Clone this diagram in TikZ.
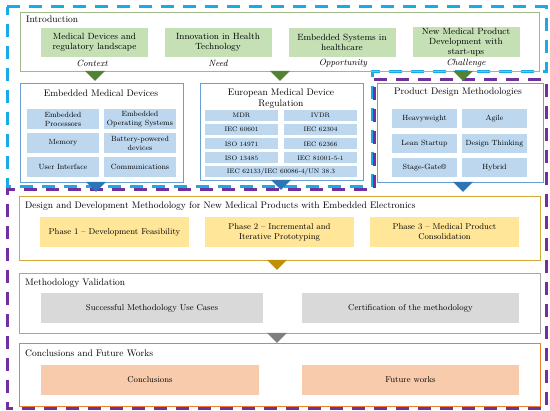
\documentclass[tikz,border=0pt]{standalone}
\usepackage{tikz}
\usepackage{amsmath}

\definecolor{dashcyan}{HTML}{1AAAE6}
\definecolor{dashpurple}{HTML}{7030A0}
\definecolor{introline}{HTML}{9FB98A}
\definecolor{introfill}{HTML}{C5E0B4}
\definecolor{introtri}{HTML}{548235}
\definecolor{blueline}{HTML}{6A9FD4}
\definecolor{bluefill}{HTML}{BDD7EE}
\definecolor{bluetri}{HTML}{2E75B6}
\definecolor{goldline}{HTML}{D2AA3A}
\definecolor{goldfill}{HTML}{FFE699}
\definecolor{goldtri}{HTML}{BF9000}
\definecolor{grayline}{HTML}{A6A6A6}
\definecolor{grayfill}{HTML}{D9D9D9}
\definecolor{graytri}{HTML}{7F7F7F}
\definecolor{orangeline}{HTML}{ED7D31}
\definecolor{orangefill}{HTML}{F8CBAD}

\tikzset{
  groupdash/.style={line width=3pt, dash pattern=on 13pt off 9pt},
  title/.style={anchor=west, inner sep=0pt, font=\fontsize{9.5}{11}\selectfont},
  introbox/.style={fill=introfill, minimum width=107, minimum height=29, inner sep=1pt, align=center, font=\fontsize{9}{10}\selectfont},
  tag/.style={inner sep=0pt, font=\fontsize{9}{10}\selectfont\itshape},
  smallblue/.style={fill=bluefill, inner sep=1pt, align=center, font=\fontsize{7.5}{9}\selectfont},
  regbox/.style={fill=bluefill, minimum height=11, inner sep=0pt, font=\fontsize{6.5}{7}\selectfont},
  phasebox/.style={fill=goldfill, minimum width=149, minimum height=30, inner sep=1pt, align=center, font=\fontsize{8.5}{10}\selectfont},
  widebox/.style={minimum height=30, inner sep=1pt, font=\fontsize{8.5}{10}\selectfont}
}

\begin{document}
\begin{tikzpicture}[x=1pt,y=-1pt]
\useasboundingbox (0,0) rectangle (550,411);

% grouping frames
\draw[groupdash, dashcyan] (7,7) -- (546,7) -- (546,72) -- (372,72) -- (372,187) -- (7,187) -- cycle;
\draw[groupdash, dashpurple] (374,80) -- (546,80) -- (546,409) -- (7,409) -- (7,190) -- (374,190) -- cycle;

% Introduction
\draw[introline, thick] (20,12) rectangle (539,71);
\node[title] (intro) at (26,19) {Introduction};
\node[introbox] (medreg) at (94.5,42.5) {Medical Devices and\\regulatory landscape};
\node[introbox] (innov) at (218,42.5) {Innovation in Health\\Technology};
\node[introbox] (embsys) at (342,42.5) {Embedded Systems in\\healthcare};
\node[introbox] (newprod) at (466,42.5) {New Medical Product\\Development with\\start-ups};
\node[tag] (context) at (92,63) {Context};
\node[tag] (need) at (218,63) {Need};
\node[tag] (oppo) at (343,63) {Opportunity};
\node[tag] (chall) at (466,63) {Challenge};
\fill[introtri] (85,71) -- (105,71) -- (95,81) -- cycle;
\fill[introtri] (270,71) -- (290,71) -- (280,81) -- cycle;
\fill[introtri] (453,71) -- (473,71) -- (463,81) -- cycle;

% Embedded Medical Devices
\draw[blueline, thick] (20,83) rectangle (183,182);
\node[inner sep=0pt, font=\fontsize{9.5}{11}\selectfont] (emd) at (101,93) {Embedded Medical Devices};
\node[smallblue, minimum width=72, minimum height=20] (proc) at (63,119) {Embedded\\Processors};
\node[smallblue, minimum width=72, minimum height=20] (os) at (140,119) {Embedded\\Operating Systems};
\node[smallblue, minimum width=72, minimum height=20] (mem) at (63,143) {Memory};
\node[smallblue, minimum width=72, minimum height=20] (batt) at (140,143) {Battery-powered\\devices};
\node[smallblue, minimum width=72, minimum height=20] (ui) at (63,167) {User Interface};
\node[smallblue, minimum width=72, minimum height=20] (comm) at (140,167) {Communications};

% European Medical Device Regulation
\draw[blueline, thick] (200,83) rectangle (363,180);
\node[inner sep=0pt, align=center, font=\fontsize{9.5}{11}\selectfont] (emdr) at (281,98.5) {European Medical Device\\Regulation};
\node[regbox, minimum width=73] (mdr) at (241.5,115.5) {MDR};
\node[regbox, minimum width=73] (ivdr) at (320.5,115.5) {IVDR};
\node[regbox, minimum width=73] (iecA) at (241.5,129.5) {IEC 60601};
\node[regbox, minimum width=73] (iecB) at (320.5,129.5) {IEC 62304};
\node[regbox, minimum width=73] (isoA) at (241.5,144) {ISO 14971};
\node[regbox, minimum width=73] (iecC) at (320.5,144) {IEC 62366};
\node[regbox, minimum width=73] (isoB) at (241.5,158) {ISO 13485};
\node[regbox, minimum width=73] (iecD) at (320.5,158) {IEC 81001-5-1};
\node[regbox, minimum width=152] (batreg) at (281,172) {IEC 62133/IEC 60086-4/UN 38.3};

% Product Design Methodologies
\draw[blueline, thick] (377,83) rectangle (543,182);
\node[inner sep=0pt, font=\fontsize{9.5}{11}\selectfont] (pdm) at (458,92.5) {Product Design Methodologies};
\node[smallblue, minimum width=65, minimum height=19] (heavy) at (424.5,119) {Heavyweight};
\node[smallblue, minimum width=65, minimum height=19] (agile) at (494.5,119) {Agile};
\node[smallblue, minimum width=65, minimum height=19] (lean) at (424.5,143.5) {Lean Startup};
\node[smallblue, minimum width=65, minimum height=19] (dthink) at (494.5,143.5) {Design Thinking};
\node[smallblue, minimum width=65, minimum height=19] (stage) at (424.5,167.5) {Stage-Gate\textregistered};
\node[smallblue, minimum width=65, minimum height=19] (hybrid) at (494.5,167.5) {Hybrid};
\fill[bluetri] (86,182) -- (106,182) -- (96,192) -- cycle;
\fill[bluetri] (271,180) -- (291,180) -- (281,190) -- cycle;
\fill[bluetri] (453,182) -- (473,182) -- (463,192) -- cycle;

% Methodology
\draw[goldline, thick] (19,196) rectangle (540,260);
\node[title] (ddm) at (25,206) {Design and Development Methodology for New Medical Products with Embedded Electronics};
\node[phasebox] (phaseA) at (114.5,232) {Phase 1 -- Development Feasibility};
\node[phasebox] (phaseB) at (279.5,232) {Phase 2 -- Incremental and\\Iterative Prototyping};
\node[phasebox] (phaseC) at (444.5,232) {Phase 3 -- Medical Product\\Consolidation};
\fill[goldtri] (267,260) -- (287,260) -- (277,270) -- cycle;

% Validation
\draw[grayline, thick] (19,273) rectangle (540,333);
\node[title] (valid) at (25,283.5) {Methodology Validation};
\node[widebox, fill=grayfill, minimum width=222] (usecase) at (152,308) {Successful Methodology Use Cases};
\node[widebox, fill=grayfill, minimum width=217] (certif) at (410.5,308) {Certification of the methodology};
\fill[graytri] (267,333) -- (287,333) -- (277,343) -- cycle;

% Conclusions
\draw[orangeline, thick] (19,343) rectangle (540,406);
\node[title] (concl) at (25,353) {Conclusions and Future Works};
\node[widebox, fill=orangefill, minimum width=218] (conc) at (150,380) {Conclusions};
\node[widebox, fill=orangefill, minimum width=217] (future) at (410.5,380) {Future works};
\end{tikzpicture}
\end{document}
